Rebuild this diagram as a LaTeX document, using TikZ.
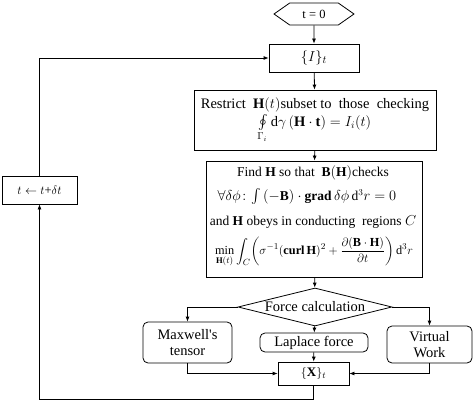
\documentclass[tikz,border=0pt]{standalone}
\usepackage{amsmath}
\usepackage{fontspec}
\setmainfont{Liberation Serif}
\usetikzlibrary{arrows.meta,shapes.geometric,shapes.symbols}

\begin{document}
\begin{tikzpicture}[x=1pt,y=-1pt,line width=0.8pt,
    every node/.style={draw, inner sep=1pt, align=center, font=\fontsize{14.5}{16}\selectfont},
    caixa/.style={rectangle},
    arred/.style={rectangle, rounded corners=5pt},
    texto/.style={draw=none, inner sep=0pt, font=\fontsize{13.5}{15}\selectfont},
    seta/.style={-{Latex[length=5pt,width=4pt]}}]
  \useasboundingbox (0,0) rectangle (474,401);

  % 1. Blocos do fluxograma
  \node[signal, signal to=east and west, signal pointer angle=70, font=\fontsize{12.5}{14}\selectfont,
        minimum width=80, minimum height=22] (ini) at (314,14) {t = 0};
  \node[caixa, minimum width=90, minimum height=28, font=\fontsize{15}{17}\selectfont] (It) at (314,58) {$\{I\}_t$};
  \node[caixa, minimum width=242, minimum height=60] (restr) at (315,120)
    {Restrict \ $\mathbf{H}(t)$subset to \ those \ checking\\[2pt]
     $\oint\limits_{\Gamma_i}\mathrm{d}\gamma\left(\mathbf{H}\cdot\mathbf{t}\right)=I_i(t)$};
  \node[caixa, minimum width=216, minimum height=116] (find) at (314,219) {};
  \node[texto] (find1) at (313,173) {Find $\mathbf{H}$ so that \ $\mathbf{B}(\mathbf{H})$checks};
  \node[texto] (find2) at (307,197) {$\forall\delta\phi\colon\!\int\left(-\mathbf{B}\right)\cdot\mathbf{grad}\,\delta\phi\,\mathrm{d}^3r=0$};
  \node[texto] (find3) at (313,222) {and $\mathbf{H}$ obeys in conducting \ regions $C$};
  \node[texto, font=\fontsize{12.3}{14}\selectfont] (find4) at (314,252)
    {$\displaystyle\min_{\mathbf{H}(t)}\int_C\!\left(\sigma^{-1}(\mathbf{curl}\,\mathbf{H})^2+\frac{\partial(\mathbf{B}\cdot\mathbf{H})}{\partial t}\right)\mathrm{d}^3r$};
  \node[diamond, aspect=4.05, inner sep=0pt, minimum width=154, minimum height=38] (forca) at (315,307) {Force calculation};
  \node[arred, minimum width=89, minimum height=41] (maxw) at (187.5,342.5) {Maxwell\textquotesingle s\\tensor};
  \node[arred, minimum width=108, minimum height=19] (lapl) at (314,342.5) {Laplace force};
  \node[arred, minimum width=85, minimum height=37] (virt) at (429.5,344.5) {Virtual\\Work};
  \node[caixa, minimum width=71, minimum height=23, font=\fontsize{13}{15}\selectfont] (X) at (313.5,373.5) {$\{\mathbf{X}\}_t$};
  \node[caixa, minimum width=75, minimum height=28, font=\fontsize{12.5}{14}\selectfont] (passo) at (39.5,190) {$t\leftarrow t$+$\delta t$};

  % 2. Ligações
  \draw[seta] (ini) -- (It);
  \draw[seta] (It) -- (restr);
  \draw[seta] (restr) -- (find);
  \draw[seta] (find) -- (forca);
  \draw[seta] (forca.west) -| (maxw.north);
  \draw[seta] (forca.east) -| (virt.north);
  \draw[seta] (forca) -- (lapl);
  \draw[seta] (lapl) -- (X);
  \draw[seta] (maxw.south) |- (X.west);
  \draw[seta] (virt.south) |- (X.east);
  \draw[seta] (X.south) -- ++(0,14) -| (passo.south);   % retorno ao passo de tempo
  \draw[seta] (passo.north) |- (It.west);

\end{tikzpicture}
\end{document}
